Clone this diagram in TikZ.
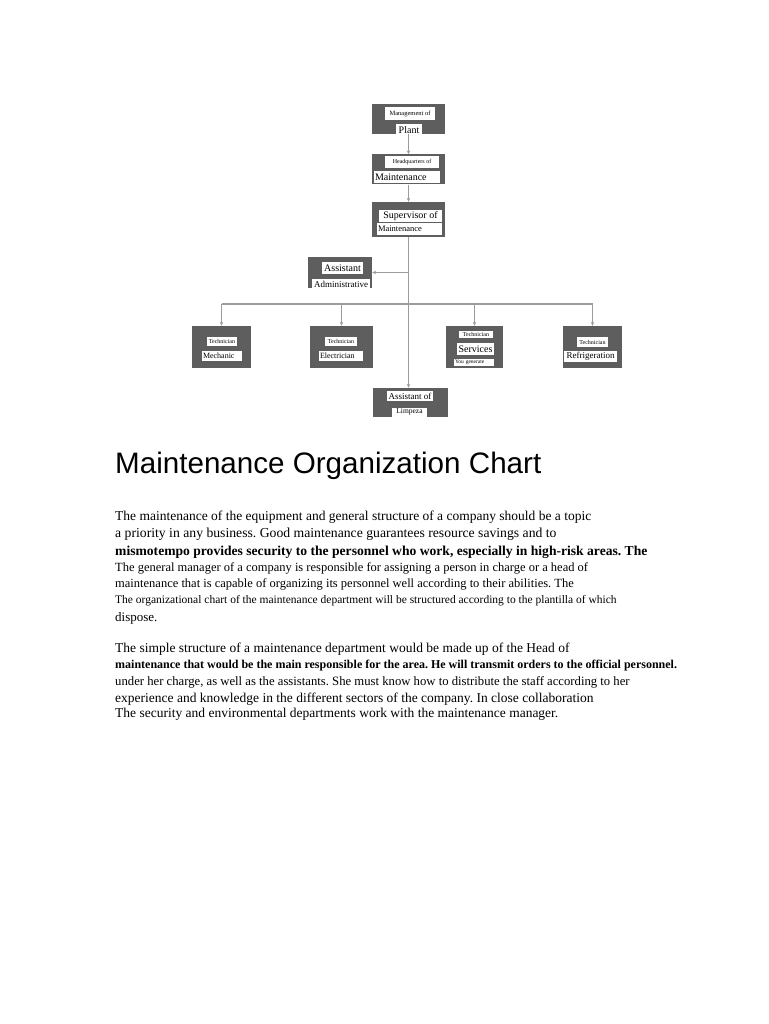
\documentclass[tikz,border=0pt]{standalone}
\usepackage{fontspec}
\setmainfont{Liberation Serif}
\newfontfamily\titlefont{Liberation Sans}
\usetikzlibrary{arrows.meta}
\definecolor{boxgray}{HTML}{5E5E5E}
\definecolor{linegray}{HTML}{9C9C9C}
\newcommand{\fs}[1]{\fontsize{#1}{#1}\selectfont}
\frenchspacing
\begin{document}
\begin{tikzpicture}[x=1pt,y=-1pt,>={Stealth[length=4pt,width=3.5pt]},
    box/.style={fill=boxgray,inner sep=0pt},
    lbl/.style={fill=white,inner sep=0.6pt,text=black,minimum height=#1},
    lbl/.default=10pt,
    conn/.style={draw=linegray,line width=1.1pt},
    line/.style={anchor=base west,inner sep=0pt}]
\useasboundingbox (0,0) rectangle (768,1024);
\node[box,minimum width=73pt,minimum height=30pt] (plant) at (408.5,119) {};
\node[box,minimum width=73pt,minimum height=30pt] (hq) at (408.5,169.5) {};
\node[box,minimum width=73pt,minimum height=35pt] (sup) at (408.5,219.5) {};
\node[box,minimum width=64pt,minimum height=31pt] (admin) at (340,272.5) {};
\node[box,minimum width=75pt,minimum height=29pt] (limp) at (410,402.5) {};
\foreach \n/\x/\w in {mech/221.5/59,elec/341.5/63,serv/474.5/57,refr/592.5/59}
    \node[box,minimum width=\w pt,minimum height=42pt] (\n) at (\x,347) {};

\node[lbl=13pt,minimum width=50pt,font=\fs{6.5}] (plant-a) at (410,114) {Management of};
\node[lbl=11pt,minimum width=26pt,font=\fs{10}] (plant-b) at (409,130) {Plant};
\node[lbl=12pt,minimum width=54pt,font=\fs{6}] (hq-a) at (412,162) {Headquarters of};
\node[lbl=12pt,text width=64pt,align=left,font=\fs{10}] (hq-b) at (407,177) {Maintenance};
\node[lbl=12pt,minimum width=63pt,font=\fs{10}] (sup-a) at (410.5,216) {Supervisor of};
\node[lbl=11pt,text width=63pt,align=left,font=\fs{8.5}] (sup-b) at (409.5,229) {Maintenance};
\node[lbl=12pt,minimum width=41pt,font=\fs{10}] (admin-a) at (342.5,268) {Assistant};
\node[lbl=10pt,minimum width=58pt,font=\fs{9}] (admin-b) at (341,284) {Administrative};
\node[lbl=10pt,minimum width=46pt,font=\fs{9}] (limp-a) at (410,396) {Assistant of};
\node[lbl=9pt,minimum width=35pt,font=\fs{7.5}] (limp-b) at (409.5,412) {Limpeza};
\node[lbl=9pt,minimum width=30pt,font=\fs{6}] (mech-a) at (222,341) {Technician};
\node[lbl=10pt,text width=38pt,align=left,font=\fs{8}] (mech-b) at (222,356) {Mechanic};
\node[lbl=9pt,minimum width=32pt,font=\fs{6}] (elec-a) at (341,341) {Technician};
\node[lbl=10pt,text width=42pt,align=left,font=\fs{8}] (elec-b) at (341,356) {Electrician};
\node[lbl=7pt,minimum width=34pt,font=\fs{6}] (serv-a) at (476,334) {Technician};
\node[lbl=12pt,minimum width=37pt,font=\fs{10}] (serv-b) at (475.5,349) {Services};
\node[lbl=7pt,text width=38pt,align=left,font=\fs{5.5}] (serv-c) at (474,362) {You generate};
\node[lbl=10pt,minimum width=31pt,font=\fs{6}] (refr-a) at (592.5,342) {Technician};
\node[lbl=11pt,minimum width=53pt,font=\fs{9}] (refr-b) at (590.5,356) {Refrigeration};

\draw[conn,->] (plant) -- (hq);
\draw[conn,->] (hq) -- (sup);
\draw[conn,->] (sup.south) -- (sup.south |- limp.north);
\draw[conn,->] (sup.south |- admin.east) -- (admin.east);
\coordinate (bus) at (408.5,304);
\draw[conn] (mech.north |- bus) -- (refr.north |- bus);
\foreach \n in {mech,elec,serv,refr}
    \draw[conn,->] (\n.north |- bus) -- (\n.north);

\node[line,font=\titlefont\fs{29.6}] (title) at (115,473) {Maintenance Organization Chart};
\node[line,font=\fs{13.5}] (l1) at (115,520) {The maintenance of the equipment and general structure of a company should be a topic};
\node[line,font=\fs{13.7}] (l2) at (115,537) {a priority in any business. Good maintenance guarantees resource savings and to};
\node[line,font=\bfseries\fs{13.6}] (l3) at (115,555) {mismotempo provides security to the personnel who work, especially in high-risk areas. The};
\node[line,font=\fs{12.5}] (l4) at (115,571) {The general manager of a company is responsible for assigning a person in charge or a head of};
\node[line,font=\fs{12.5}] (l5) at (115,587) {maintenance that is capable of organizing its personnel well according to their abilities. The};
\node[line,font=\fs{11.5}] (l6) at (115,603) {The organizational chart of the maintenance department will be structured according to the plantilla of which};
\node[line,font=\fs{13}] (l7) at (115,621) {dispose.};
\node[line,font=\fs{13.5}] (l8) at (115,652) {The simple structure of a maintenance department would be made up of the Head of};
\node[line,font=\bfseries\fs{12}] (l9) at (115,668) {maintenance that would be the main responsible for the area. He will transmit orders to the official personnel.};
\node[line,font=\fs{12.7}] (l10) at (115,685) {under her charge, as well as the assistants. She must know how to distribute the staff according to her};
\node[line,font=\fs{13.5}] (l11) at (115,702) {experience and knowledge in the different sectors of the company. In close collaboration};
\node[line,font=\fs{13.5}] (l12) at (115,717) {The security and environmental departments work with the maintenance manager.};
\end{tikzpicture}
\end{document}
